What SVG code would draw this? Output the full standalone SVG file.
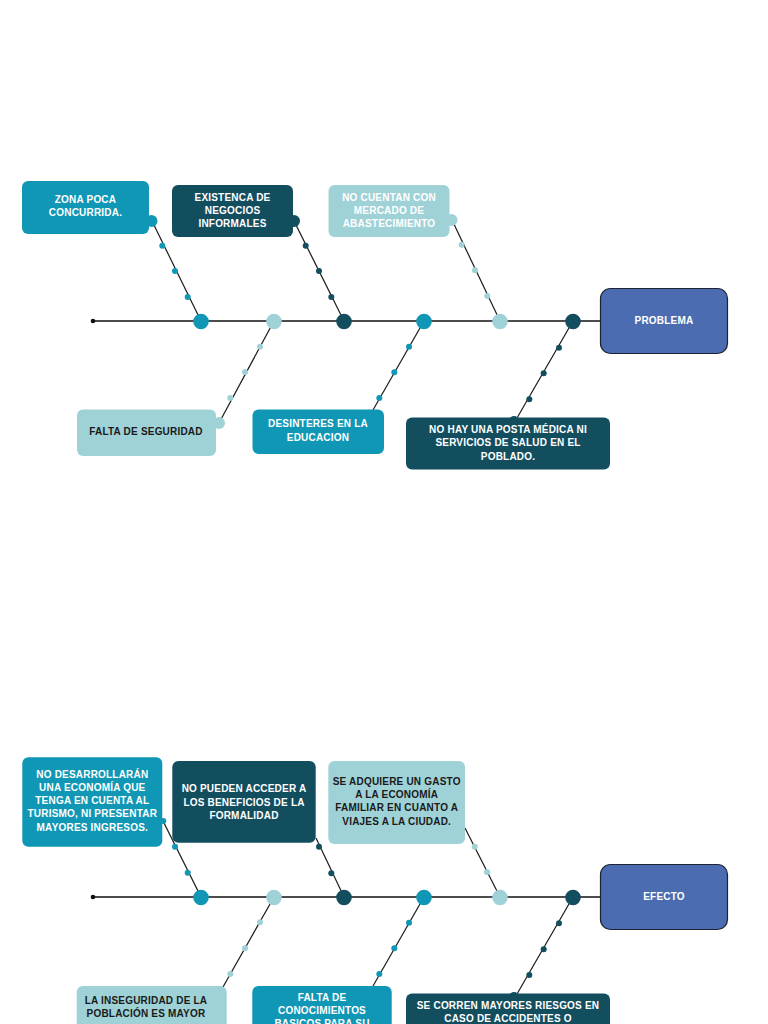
<svg xmlns="http://www.w3.org/2000/svg" width="768" height="1024" viewBox="0 0 768 1024">
<style>
.t{font-family:"Liberation Sans",Arial,sans-serif;font-weight:bold;font-size:10px;text-anchor:middle;letter-spacing:0.2px}
.w{fill:#ffffff}.k{fill:#1a1a1a}
.teal{fill:#0f97b5}.dark{fill:#134e5f}.light{fill:#9fd2d6}
.bone{stroke:#1a1a1a;stroke-width:1.2;fill:none}
.spine{stroke:#111;stroke-width:1.6;fill:none}
.head{fill:#4b6cb1;stroke:#1c2433;stroke-width:1.2}
</style>
<rect width="768" height="1024" fill="#ffffff"/>

<!-- ===== TOP DIAGRAM ===== -->
<g id="connectors-top">
<line class="spine" x1="93" y1="321" x2="601" y2="321"/>
<circle cx="93" cy="321" r="2.3" fill="#111"/>
<line class="bone" x1="152" y1="221" x2="201" y2="321"/>
<line class="bone" x1="294" y1="221" x2="344" y2="321"/>
<line class="bone" x1="452" y1="220" x2="500" y2="321"/>
<line class="bone" x1="274" y1="321" x2="219" y2="423"/>
<line class="bone" x1="424" y1="321" x2="373" y2="410"/>
<line class="bone" x1="573" y1="321" x2="517" y2="418"/>
<circle class="teal" cx="162.3" cy="245.7" r="3"/><circle class="teal" cx="175" cy="271" r="3"/><circle class="teal" cx="187.7" cy="297" r="3"/>
<circle class="dark" cx="305.7" cy="245.7" r="3"/><circle class="dark" cx="319" cy="271" r="3"/><circle class="dark" cx="331.3" cy="297" r="3"/>
<circle class="light" cx="461.7" cy="244.7" r="3"/><circle class="light" cx="475" cy="270.3" r="3"/><circle class="light" cx="487.3" cy="296" r="3"/>
<circle class="light" cx="260" cy="346.7" r="3"/><circle class="light" cx="245" cy="372" r="3"/><circle class="light" cx="230.3" cy="398" r="3"/>
<circle class="teal" cx="409" cy="346.7" r="3"/><circle class="teal" cx="394.3" cy="372.3" r="3"/><circle class="teal" cx="379.3" cy="398" r="3"/>
<circle class="dark" cx="559" cy="347.7" r="3"/><circle class="dark" cx="543.7" cy="373.3" r="3"/><circle class="dark" cx="529.3" cy="399.3" r="3"/>
<circle class="teal" cx="201" cy="321.5" r="7.8"/>
<circle class="light" cx="274" cy="321.5" r="7.8"/>
<circle class="dark" cx="344" cy="321.5" r="7.8"/>
<circle class="teal" cx="424" cy="321.5" r="7.8"/>
<circle class="light" cx="500" cy="321.5" r="7.8"/>
<circle class="dark" cx="573" cy="321.5" r="7.8"/>
</g>

<g id="node-problema">
<rect class="head" x="600.5" y="288.5" width="127" height="65" rx="10"/>
<text class="t w" x="664" y="323.5">PROBLEMA</text>
</g>

<g id="node-zona">
<rect class="teal" x="22" y="181" width="127" height="53" rx="6"/>
<circle class="teal" cx="151.5" cy="221" r="6"/>
<text class="t w" x="85.5" y="202.5">ZONA POCA</text>
<text class="t w" x="85.5" y="216">CONCURRIDA.</text>
</g>

<g id="node-existencia">
<rect class="dark" x="172" y="185" width="121" height="52" rx="6"/>
<circle class="dark" cx="294" cy="221" r="6"/>
<text class="t w" x="232.5" y="200.5">EXISTENCA DE</text>
<text class="t w" x="232.5" y="213.5">NEGOCIOS</text>
<text class="t w" x="232.5" y="227">INFORMALES</text>
</g>

<g id="node-mercado">
<rect class="light" x="328.5" y="185" width="121" height="52" rx="6"/>
<circle class="light" cx="451.5" cy="220" r="6"/>
<text class="t w" x="389" y="200.5">NO CUENTAN CON</text>
<text class="t w" x="389" y="213.5">MERCADO DE</text>
<text class="t w" x="389" y="227">ABASTECIMIENTO</text>
</g>

<g id="node-seguridad">
<rect class="light" x="77" y="409.5" width="139" height="46.5" rx="6"/>
<circle class="light" cx="219" cy="423" r="6"/>
<text class="t k" x="146" y="435">FALTA DE SEGURIDAD</text>
</g>

<g id="node-educacion">
<rect class="teal" x="252.5" y="409.5" width="131.5" height="44.5" rx="6"/>
<text class="t w" x="318" y="426.5">DESINTERES EN LA</text>
<text class="t w" x="318" y="441">EDUCACION</text>
</g>

<g id="node-posta">
<rect class="dark" x="406" y="417.5" width="204" height="52" rx="6"/>
<circle class="dark" cx="514" cy="421" r="5"/>
<text class="t w" x="508" y="432.5">NO HAY UNA POSTA MÉDICA NI</text>
<text class="t w" x="508" y="446">SERVICIOS DE SALUD EN EL</text>
<text class="t w" x="508" y="459.5">POBLADO.</text>
</g>

<!-- ===== BOTTOM DIAGRAM ===== -->
<g id="connectors-bottom">
<line class="spine" x1="93" y1="897" x2="601" y2="897"/>
<circle cx="93" cy="897" r="2.3" fill="#111"/>
<line class="bone" x1="163" y1="821" x2="201" y2="897"/>
<line class="bone" x1="316" y1="838" x2="344" y2="897"/>
<line class="bone" x1="465" y1="828" x2="500" y2="897"/>
<line class="bone" x1="274" y1="897" x2="223" y2="987"/>
<line class="bone" x1="424" y1="897" x2="373" y2="986"/>
<line class="bone" x1="573" y1="897" x2="517" y2="994"/>
<circle class="teal" cx="163.3" cy="821" r="3"/><circle class="teal" cx="175" cy="846.7" r="3"/><circle class="teal" cx="187.7" cy="872.7" r="3"/>
<circle class="dark" cx="319" cy="846.7" r="3"/><circle class="dark" cx="331.3" cy="873.3" r="3"/>
<circle class="light" cx="474.7" cy="846.7" r="3"/><circle class="light" cx="487" cy="872" r="3"/>
<circle class="light" cx="260" cy="922.3" r="3"/><circle class="light" cx="245" cy="948.3" r="3"/><circle class="light" cx="230.3" cy="974" r="3"/>
<circle class="teal" cx="409" cy="922.7" r="3"/><circle class="teal" cx="394.3" cy="948.3" r="3"/><circle class="teal" cx="379.3" cy="974" r="3"/>
<circle class="dark" cx="559" cy="923.3" r="3"/><circle class="dark" cx="543.7" cy="949.3" r="3"/><circle class="dark" cx="529.3" cy="975" r="3"/>
<circle class="teal" cx="201" cy="897.5" r="7.8"/>
<circle class="light" cx="274" cy="897.5" r="7.8"/>
<circle class="dark" cx="344" cy="897.5" r="7.8"/>
<circle class="teal" cx="424" cy="897.5" r="7.8"/>
<circle class="light" cx="500" cy="897.5" r="7.8"/>
<circle class="dark" cx="573" cy="897.5" r="7.8"/>
</g>

<g id="node-efecto">
<rect class="head" x="600.5" y="864.5" width="127" height="65" rx="10"/>
<text class="t w" x="664" y="899.5">EFECTO</text>
</g>

<g id="node-desarrollaran">
<rect class="teal" x="22.3" y="757.3" width="140" height="89.4" rx="6"/>
<text class="t w" x="92.3" y="777.5">NO DESARROLLARÁN</text>
<text class="t w" x="92.3" y="790.5">UNA ECONOMÍA QUE</text>
<text class="t w" x="92.3" y="803.5">TENGA EN CUENTA AL</text>
<text class="t w" x="92.3" y="817">TURISMO, NI PRESENTAR</text>
<text class="t w" x="92.3" y="830.5">MAYORES INGRESOS.</text>
</g>

<g id="node-acceder">
<rect class="dark" x="172.3" y="761" width="143.4" height="81.7" rx="6"/>
<text class="t w" x="244" y="792">NO PUEDEN ACCEDER A</text>
<text class="t w" x="244" y="805.5">LOS BENEFICIOS DE LA</text>
<text class="t w" x="244" y="819">FORMALIDAD</text>
</g>

<g id="node-gasto">
<rect class="light" x="328.3" y="761" width="136.7" height="83" rx="6"/>
<text class="t k" x="396.7" y="784.5">SE ADQUIERE UN GASTO</text>
<text class="t k" x="396.7" y="797.5">A LA ECONOMÍA</text>
<text class="t k" x="396.7" y="811">FAMILIAR EN CUANTO A</text>
<text class="t k" x="396.7" y="824.5">VIAJES A LA CIUDAD.</text>
</g>

<g id="node-inseguridad">
<rect class="light" x="76.7" y="986" width="150" height="60" rx="6"/>
<text class="t k" x="146" y="1004">LA INSEGURIDAD DE LA</text>
<text class="t k" x="146" y="1017">POBLACIÓN ES MAYOR</text>
</g>

<g id="node-conocimientos">
<rect class="teal" x="252.3" y="986" width="139.4" height="60" rx="6"/>
<text class="t w" x="322" y="1001">FALTA DE</text>
<text class="t w" x="322" y="1014">CONOCIMIENTOS</text>
<text class="t w" x="322" y="1027">BASICOS PARA SU</text>
</g>

<g id="node-riesgos">
<rect class="dark" x="406" y="993.5" width="204" height="60" rx="6"/>
<circle class="dark" cx="514" cy="997" r="5"/>
<text class="t w" x="508" y="1008.5">SE CORREN MAYORES RIESGOS EN</text>
<text class="t w" x="508" y="1022">CASO DE ACCIDENTES O</text>
</g>
</svg>
